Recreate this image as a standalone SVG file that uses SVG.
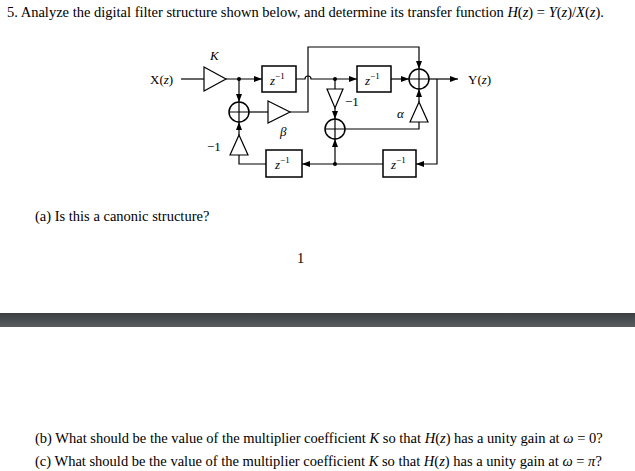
<svg xmlns="http://www.w3.org/2000/svg" width="635" height="471" viewBox="0 0 635 471">
<defs>
<style>
.t{font-family:"Liberation Serif",serif;font-size:14.5px;fill:#000}
.d{font-family:"Liberation Serif",serif;font-size:13px;fill:#000}
.i{font-style:italic}
.s{fill:none;stroke:#000;stroke-width:1.2}
.b{fill:#fff;stroke:#000;stroke-width:1.5}
</style>
<marker id="a" markerWidth="8" markerHeight="6" refX="8" refY="3" orient="auto" markerUnits="userSpaceOnUse"><path d="M0,0L8,3L0,6z" fill="#000"/></marker>
<linearGradient id="g" x1="0" y1="0" x2="0" y2="1"><stop offset="0" stop-color="#3c3f42"/><stop offset="1" stop-color="#5a5d60"/></linearGradient>
</defs>
<rect width="635" height="471" fill="#fff"/>
<text class="t" x="7" y="17">5. Analyze the digital filter structure shown below, and determine its transfer function <tspan class="i">H</tspan>(<tspan class="i">z</tspan>) = <tspan class="i">Y</tspan>(<tspan class="i">z</tspan>)/<tspan class="i">X</tspan>(<tspan class="i">z</tspan>).</text>
<g id="connectors">
<path class="s" d="M181,79H204"/>
<path class="s" d="M226,79H262" marker-end="url(#a)"/>
<path class="s" d="M296,79H305A3,3 0 0 1 311,79H357" marker-end="url(#a)"/>
<path class="s" d="M391,79H409" marker-end="url(#a)"/>
<path class="s" d="M429,79H458" marker-end="url(#a)"/>
<path class="s" d="M239,79V102" marker-end="url(#a)"/>
<path class="s" d="M249,112H268"/>
<path class="s" d="M290,112H308V47H419V69" marker-end="url(#a)"/>
<path class="s" d="M335,79V89"/>
<path class="s" d="M335,108V119" marker-end="url(#a)"/>
<path class="s" d="M345,129H419V122"/>
<path class="s" d="M419,102V89" marker-end="url(#a)"/>
<path class="s" d="M437,79V164H416" marker-end="url(#a)"/>
<path class="s" d="M383,164H302" marker-end="url(#a)"/>
<path class="s" d="M335,164V139" marker-end="url(#a)"/>
<path class="s" d="M266,164H239V155"/>
<path class="s" d="M239,135V122" marker-end="url(#a)"/>
<circle cx="239" cy="79" r="2" fill="#000"/>
<circle cx="335" cy="79" r="2" fill="#000"/>
<circle cx="335" cy="164" r="2" fill="#000"/>
</g>
<g id="x"><text class="d" x="150" y="84">X(<tspan class="i">z</tspan>)</text></g>
<g id="y"><text class="d" x="468" y="84">Y(<tspan class="i">z</tspan>)</text></g>
<g id="k"><path class="s" d="M204,67L226,79L204,91z"/><text class="d i" x="210" y="60">K</text></g>
<g id="d1"><rect class="b" x="262" y="66" width="34" height="26"/><text class="d" x="270" y="85"><tspan class="i">z</tspan><tspan dy="-6" font-size="9">−1</tspan></text></g>
<g id="d2"><rect class="b" x="357" y="66" width="34" height="26"/><text class="d" x="365" y="85"><tspan class="i">z</tspan><tspan dy="-6" font-size="9">−1</tspan></text></g>
<g id="d3"><rect class="b" x="266" y="150" width="36" height="27"/><text class="d" x="275" y="169"><tspan class="i">z</tspan><tspan dy="-6" font-size="9">−1</tspan></text></g>
<g id="d4"><rect class="b" x="383" y="150" width="33" height="27"/><text class="d" x="391" y="169"><tspan class="i">z</tspan><tspan dy="-6" font-size="9">−1</tspan></text></g>
<g id="s1"><circle class="b" cx="239" cy="112" r="10"/><path class="s" d="M229,112H249M239,102V122"/></g>
<g id="s2"><circle class="b" cx="335" cy="129" r="10"/><path class="s" d="M325,129H345M335,119V139"/></g>
<g id="s3"><circle class="b" cx="419" cy="79" r="10"/><path class="s" d="M409,79H429M419,69V89"/></g>
<g id="beta"><path class="s" d="M268,101L290,112L268,123z"/><text class="d i" x="280" y="136">β</text></g>
<g id="m1"><path class="s" d="M230,155L239,135L248,155z"/><text class="d" x="207" y="151">−1</text></g>
<g id="m2"><path class="s" d="M327,89L343,89L335,108z"/><text class="d" x="345" y="106">−1</text></g>
<g id="alpha"><path class="s" d="M410,122L419,102L428,122z"/><text class="d i" x="397" y="118">α</text></g>
<text class="t" x="35" y="221">(a) Is this a canonic structure?</text>
<text class="t" x="297" y="263">1</text>
<rect x="0" y="313" width="635" height="14" fill="url(#g)"/>
<text class="t" x="35" y="443">(b)  What should be the value of the multiplier coefficient <tspan class="i">K</tspan> so that <tspan class="i">H</tspan>(<tspan class="i">z</tspan>) has a unity gain at <tspan class="i">ω</tspan> = 0?</text>
<text class="t" x="35" y="466">(c)  What should be the value of the multiplier coefficient <tspan class="i">K</tspan> so that <tspan class="i">H</tspan>(<tspan class="i">z</tspan>) has a unity gain at <tspan class="i">ω</tspan> = <tspan class="i">π</tspan>?</text>
</svg>
